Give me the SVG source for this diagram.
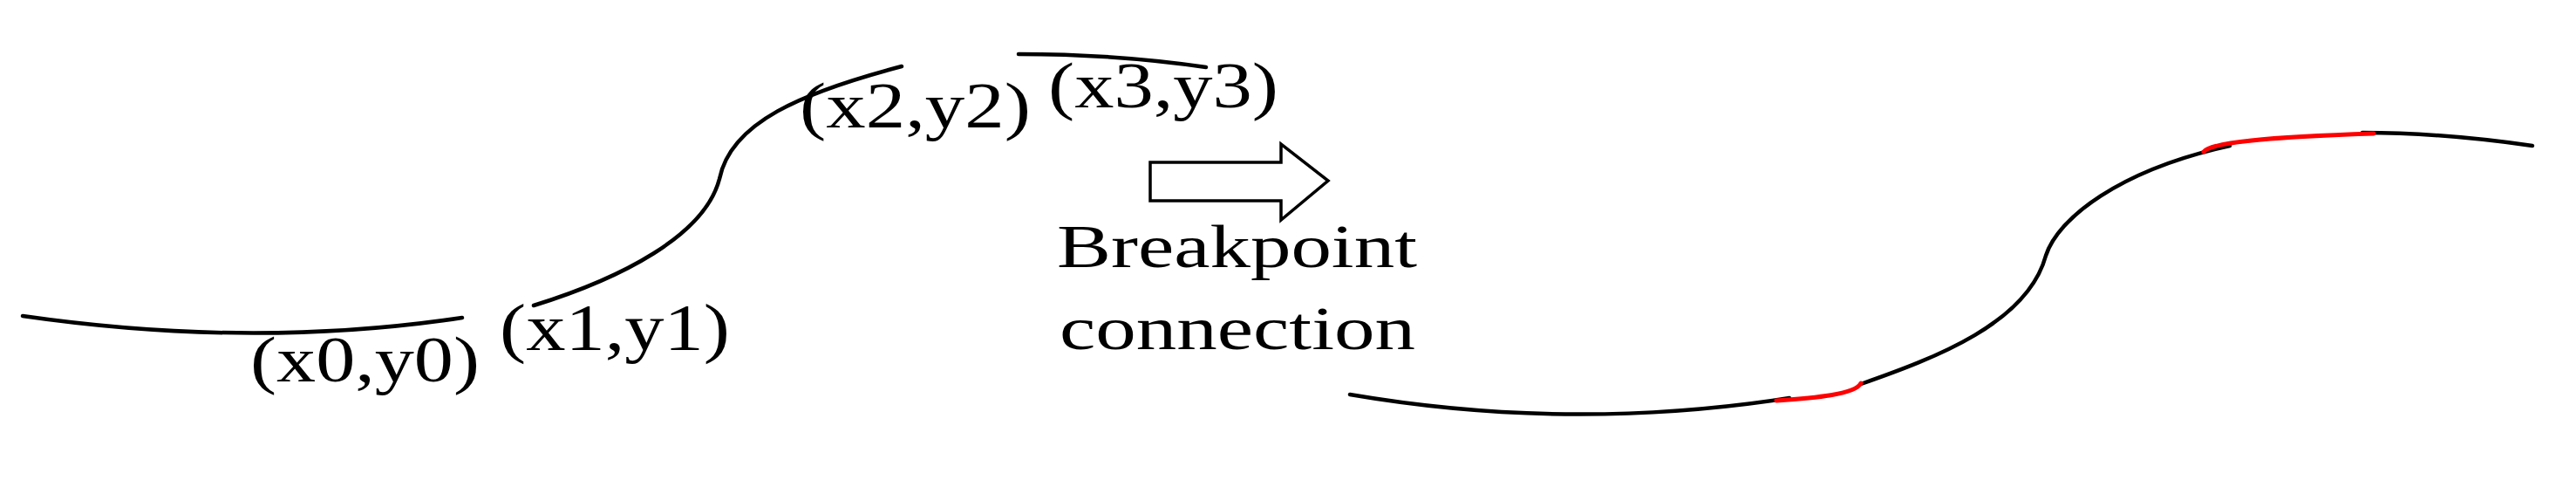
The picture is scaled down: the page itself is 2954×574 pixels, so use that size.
<svg xmlns="http://www.w3.org/2000/svg" width="2954" height="574" viewBox="0 0 2954 574">
  <style>
    .crv { fill: none; stroke: #000; stroke-width: 4.5; stroke-linecap: round; }
    .red { fill: none; stroke: #ff0000; stroke-width: 5; stroke-linecap: round; }
    .lbl { font-family: "Liberation Serif", "Times New Roman", serif; fill: #000; }
  </style>
  <rect width="2954" height="574" fill="#fff"/>

  <g id="left-curves">
    <path class="crv" d="M26,362 Q290,400 530,364"/>
    <path class="crv" d="M612,350 C712,319 808,270 825,205 C838,140 920,106 1034,76"/>
    <path class="crv" d="M1168,62 Q1280,62 1383,77"/>
  </g>

  <g id="labels">
    <text class="lbl" x="287" y="437" font-size="74" textLength="263" lengthAdjust="spacingAndGlyphs">(x0,y0)</text>
    <text class="lbl" x="573" y="401" font-size="76" textLength="264" lengthAdjust="spacingAndGlyphs">(x1,y1)</text>
    <text class="lbl" x="917" y="146" font-size="74" textLength="265" lengthAdjust="spacingAndGlyphs">(x2,y2)</text>
    <text class="lbl" x="1202" y="123" font-size="75" textLength="264" lengthAdjust="spacingAndGlyphs">(x3,y3)</text>
  </g>

  <g id="connectors">
    <polygon id="arrow" points="1319,186 1469,186 1469,165 1523,207 1469,252 1469,230 1319,230" fill="#fff" stroke="#000" stroke-width="3.5" stroke-linejoin="miter"/>
  </g>

  <g id="caption">
    <text class="lbl" x="1212" y="306" font-size="70" textLength="413" lengthAdjust="spacingAndGlyphs">Breakpoint</text>
    <text class="lbl" x="1215" y="400" font-size="70" textLength="408" lengthAdjust="spacingAndGlyphs">connection</text>
  </g>

  <g id="right-curve">
    <path class="crv" d="M1548,452 Q1800,495 2052,456"/>
    <path class="crv" d="M2134,440 C2220,410 2325,370 2346,293 C2360,250 2430,195 2557,167"/>
    <path class="crv" d="M2709,152 Q2800,152 2904,167"/>
    <path class="red" d="M2037,459 C2080,456 2128,452 2134,439"/>
    <path class="red" d="M2527,174 C2535,163 2600,157 2722,153"/>
  </g>
</svg>
